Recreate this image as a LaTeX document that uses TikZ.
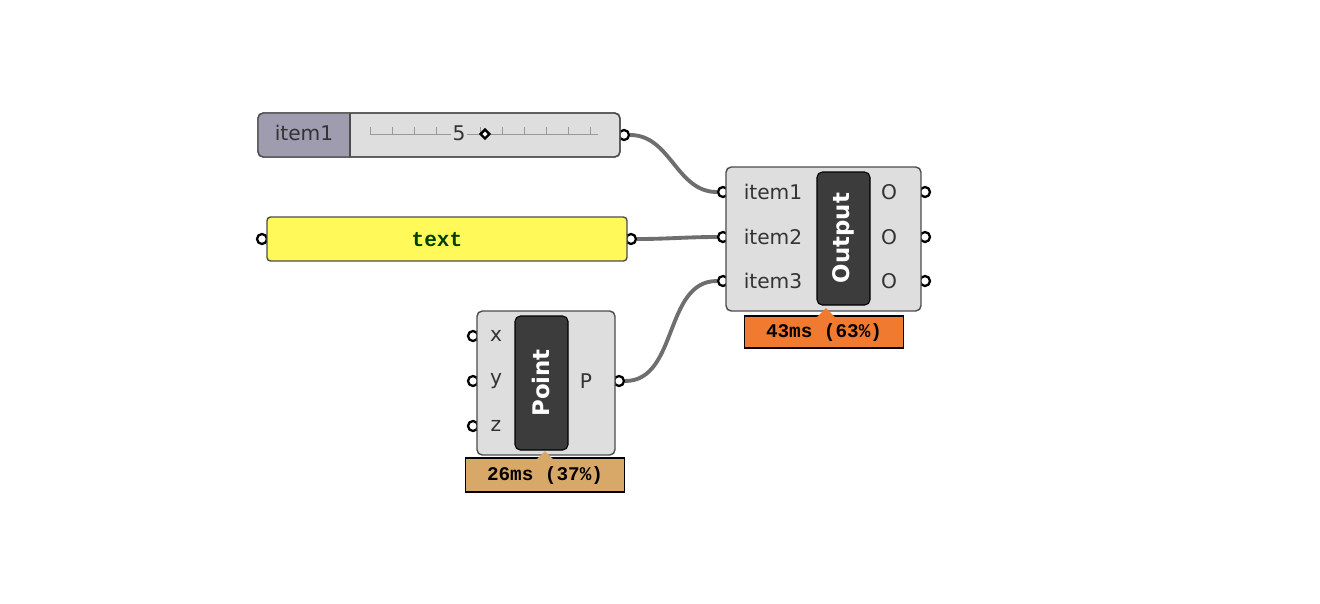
\documentclass[tikz,border=0pt]{standalone}
\usepackage{fontspec}
\setmainfont{DejaVu Sans}
\newfontfamily\monofont{Liberation Mono}
\usetikzlibrary{shapes.geometric}
\definecolor{compgray}{RGB}{222,222,222}
\definecolor{barblack}{RGB}{60,60,60}
\definecolor{sliderlab}{RGB}{160,156,176}
\definecolor{panelyel}{RGB}{255,250,90}
\definecolor{hotorange}{RGB}{240,122,48}
\definecolor{warmtan}{RGB}{216,168,104}
\definecolor{wiregray}{RGB}{110,110,110}
\begin{document}
\begin{tikzpicture}
	[x=0.02cm, y=-0.02cm,%
	port/.style  ={circle, draw=black, fill=white, line width=1.3pt, inner sep=0pt, minimum size=0.2cm},%
	body/.style  ={draw=black!70, fill=compgray, rounded corners=3pt, line width=0.8pt},%
	bar/.style   ={draw=black, fill=barblack, rounded corners=3pt, line width=0.6pt},%
	plab/.style  ={font=\fontsize{11.5}{13}\selectfont, text=black!80},%
	btext/.style ={font=\fontsize{13}{15}\selectfont\bfseries, text=white, rotate=90},%
	timer/.style ={draw=black, line width=0.8pt, font=\monofont\bfseries\fontsize{11}{12}\selectfont},%
	wire/.style  ={draw=wiregray, line width=2.2pt},%
	]
	\useasboundingbox (0,0) rectangle (1320,603);

	% ports (drawn first, the bodies cover their inner half)
	\node (sliderout) at (624,135) [port] {};
	\node (panelin)   at (262,239) [port] {};
	\node (panelout)  at (631,239) [port] {};
	\foreach \i/\y in {1/192,2/237,3/281} {
		\node (outin\i)  at (723,\y) [port] {};
		\node (outout\i) at (925,\y) [port] {};
	}
	\foreach \n/\y in {x/336,y/381,z/426} \node (pt\n) at (473,\y) [port] {};
	\node (ptout) at (619,381) [port] {};

	% slider
	\filldraw [body, fill=black!13] (258,113) rectangle (620,157);
	\begin{scope}
		\clip [rounded corners=3pt] (258,113) rectangle (620,157);
		\fill [sliderlab] (258,113) rectangle (350,157);
	\end{scope}
	\draw [black!70, line width=0.8pt] (350,113) -- (350,157);
	\draw [body, fill=none] (258,113) rectangle (620,157);
	\node (sliderlabel) at (304,133) [plab] {item1};
	\draw [black!40, line width=0.5pt] (370,134) -- (598,134);
	\foreach \t in {370,392,...,598} \draw [black!40, line width=0.5pt] (\t,134) -- (\t,127);
	\node (sliderval) at (459,133) [plab, fill=black!13, inner sep=1pt] {5};
	\node (knob) at (485,134) [diamond, draw=black, fill=white, line width=1.4pt, inner sep=0pt, minimum size=0.2cm] {};

	% panel
	\filldraw [body, fill=panelyel, rounded corners=2pt] (267,217) rectangle (627,261);
	\node (paneltext) at (437,240) [font=\monofont\bfseries\fontsize{12}{13}\selectfont, text=green!25!black] {text};

	% output component
	\filldraw [body] (726,167) rectangle (921,311);
	\filldraw [bar] (817,172) rectangle (870,305);
	\node (outname) at (843,238) [btext] {Output};
	\foreach \i/\y in {1/192,2/237,3/281} {
		\node (outlab\i) at (773,\y) [plab] {item\i};
		\node (outo\i)   at (889,\y) [plab] {O};
	}
	\node (outtime) at (824,332) [timer, fill=hotorange, minimum width=90.7pt, minimum height=18.1pt] {43ms (63\%)};
	\fill [hotorange] (817,317) -- (826,308) -- (835,317) -- cycle;

	% point component
	\filldraw [body] (477,311) rectangle (615,455);
	\filldraw [bar] (515,316) rectangle (568,450);
	\node (ptname) at (541,383) [btext] {Point};
	\foreach \n/\y in {x/336,y/381,z/426} \node (ptlab\n) at (496,\y) [plab] {\n};
	\node (ptlabP) at (586,381) [plab] {P};
	\node (pttime) at (545,475) [timer, fill=warmtan, minimum width=90.7pt, minimum height=19.3pt] {26ms (37\%)};
	\fill [warmtan] (536,460) -- (545,451) -- (554,460) -- cycle;

	% wires
	\draw [wire] (sliderout.east) to [out=0,in=180] (outin1.west);
	\draw [wire] (panelout.east) to [out=0,in=180] (outin2.west);
	\draw [wire] (ptout.east) to [out=0,in=180] (outin3.west);
\end{tikzpicture}
\end{document}
